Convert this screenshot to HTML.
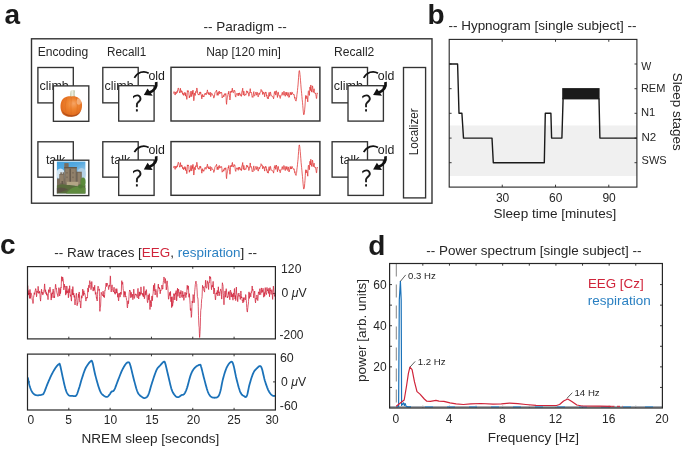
<!DOCTYPE html>
<html><head><meta charset="utf-8"><title>Figure</title>
<style>
html,body{margin:0;padding:0;background:#fff;}
body{width:685px;height:450px;overflow:hidden;}
svg{display:block;font-family:'Liberation Sans', sans-serif;}
</style></head>
<body>
<svg width="685" height="450" viewBox="0 0 685 450">
<rect width="685" height="450" fill="#fff"/>
<text x="4.55" y="24.05" font-size="28" font-weight="bold" fill="#1a1a1a">a</text>
<text x="427.52" y="24.3" font-size="28" font-weight="bold" fill="#1a1a1a">b</text>
<text x="0.07" y="254.2" font-size="28" font-weight="bold" fill="#1a1a1a">c</text>
<text x="368.18" y="254.7" font-size="28" font-weight="bold" fill="#1a1a1a">d</text>
<text x="203.46" y="30.50" font-size="13.3" fill="#262626" font-weight="normal"  textLength="83.24" lengthAdjust="spacingAndGlyphs" >-- Paradigm --</text>
<text x="448.46" y="29.50" font-size="13.3" fill="#262626" font-weight="normal"  textLength="187.92" lengthAdjust="spacingAndGlyphs" >-- Hypnogram [single subject] --</text>
<text x="54.37" y="256.60" font-size="13.3" fill="#262626" font-weight="normal"  textLength="202.68" lengthAdjust="spacingAndGlyphs" >-- Raw traces [<tspan fill="#d0243a">EEG</tspan>, <tspan fill="#2a80c2">respiration</tspan>] --</text>
<text x="426.27" y="255.20" font-size="13.3" fill="#262626" font-weight="normal"  textLength="215.21" lengthAdjust="spacingAndGlyphs" >-- Power spectrum [single subject] --</text>
<rect x="31.5" y="38.8" width="400.5" height="164.4" stroke="#333333" stroke-width="1.4" fill="none" />
<text x="37.69" y="56.00" font-size="12" fill="#262626" font-weight="normal"  textLength="50.51" lengthAdjust="spacingAndGlyphs" >Encoding</text>
<text x="107.12" y="56.00" font-size="12" fill="#262626" font-weight="normal"  textLength="39.08" lengthAdjust="spacingAndGlyphs" >Recall1</text>
<text x="206.20" y="55.80" font-size="12" fill="#262626" font-weight="normal"   >Nap [120 min]</text>
<text x="333.99" y="55.90" font-size="12" fill="#262626" font-weight="normal"  textLength="40.33" lengthAdjust="spacingAndGlyphs" >Recall2</text>
<rect x="37.9" y="67.5" width="35.4" height="35.4" stroke="#333333" stroke-width="1.35" fill="#fff" />
<text x="39.60" y="89.70" font-size="12.5" fill="#262626">climb</text>
<rect x="53.4" y="85.9" width="35.4" height="35.4" stroke="#333333" stroke-width="1.35" fill="#fff" />
<rect x="102.8" y="67.45" width="35.4" height="35.4" stroke="#333333" stroke-width="1.35" fill="#fff" />
<text x="104.50" y="89.70" font-size="12.5" fill="#262626">climb</text>
<rect x="118.7" y="85.7" width="35.4" height="35.4" stroke="#333333" stroke-width="1.35" fill="#fff" />
<text x="131.64" y="111.30" font-size="22" fill="#111"  font-family="'DejaVu Sans', sans-serif" font-weight="200" textLength="11.24" lengthAdjust="spacingAndGlyphs" stroke="#111" stroke-width="0.8">?</text>
<path d="M134.4,77.8 C137.3,72.2 143.8,70.2 148.7,73.2" fill="none" stroke="#111" stroke-width="1.7"/>
<text x="148.48" y="79.75" font-size="12" fill="#1a1a1a" font-weight="normal"  textLength="16.50" lengthAdjust="spacingAndGlyphs" >old</text>
<path d="M156.2,82.0 C157.1,87.7 154.3,90.7 149.1,92.80000000000001" fill="none" stroke="#111" stroke-width="2.7"/>
<path d="M143.8,95.1 L147.6,88.4 L152.7,95.7 Z" fill="#111"/>
<rect x="332.1" y="67.45" width="35.4" height="35.4" stroke="#333333" stroke-width="1.35" fill="#fff" />
<text x="333.80" y="89.70" font-size="12.5" fill="#262626">climb</text>
<rect x="348.0" y="85.7" width="35.4" height="35.4" stroke="#333333" stroke-width="1.35" fill="#fff" />
<text x="360.94" y="111.30" font-size="22" fill="#111"  font-family="'DejaVu Sans', sans-serif" font-weight="200" textLength="11.24" lengthAdjust="spacingAndGlyphs" stroke="#111" stroke-width="0.8">?</text>
<path d="M363.70000000000005,77.8 C366.6,72.2 373.1,70.2 378.0,73.2" fill="none" stroke="#111" stroke-width="1.7"/>
<text x="377.78" y="79.75" font-size="12" fill="#1a1a1a" font-weight="normal"  textLength="16.50" lengthAdjust="spacingAndGlyphs" >old</text>
<path d="M385.5,82.0 C386.40000000000003,87.7 383.6,90.7 378.40000000000003,92.80000000000001" fill="none" stroke="#111" stroke-width="2.7"/>
<path d="M373.1,95.1 L376.90000000000003,88.4 L382.0,95.7 Z" fill="#111"/>
<rect x="171.0" y="67.3" width="148.9" height="53.7" stroke="#333333" stroke-width="1.45" fill="#fff" />
<polyline points="173.20,93.36 173.48,93.34 173.76,92.41 174.03,91.67 174.31,91.99 174.59,92.13 174.87,93.92 175.15,95.06 175.42,92.66 175.70,91.94 175.98,93.44 176.26,93.81 176.54,92.88 176.81,91.53 177.09,92.34 177.37,92.47 177.65,90.00 177.93,89.35 178.20,87.97 178.48,88.13 178.76,88.84 179.04,90.83 179.32,91.11 179.59,92.77 179.87,92.98 180.15,91.03 180.43,88.29 180.71,90.43 180.98,92.49 181.26,92.40 181.54,90.68 181.82,91.30 182.10,91.22 182.38,92.21 182.65,94.28 182.93,92.85 183.21,93.90 183.49,95.37 183.77,93.85 184.04,93.91 184.32,94.48 184.60,93.76 184.88,92.23 185.16,94.68 185.43,96.16 185.71,93.16 185.99,95.94 186.27,96.04 186.55,95.83 186.82,99.37 187.10,96.14 187.38,90.58 187.66,91.11 187.94,91.78 188.21,90.62 188.49,91.61 188.77,92.04 189.05,95.41 189.33,97.98 189.60,95.72 189.88,96.79 190.16,96.80 190.44,95.96 190.72,92.01 190.99,91.13 191.27,92.83 191.55,96.46 191.83,96.57 192.11,91.40 192.38,92.26 192.66,94.28 192.94,90.05 193.22,92.53 193.50,96.83 193.77,100.73 194.05,99.32 194.33,95.21 194.61,93.03 194.89,93.57 195.16,95.56 195.44,92.09 195.72,91.43 196.00,92.72 196.28,91.74 196.55,89.85 196.83,87.96 197.11,89.08 197.39,90.30 197.67,93.69 197.95,94.33 198.22,94.08 198.50,94.85 198.78,94.23 199.06,95.13 199.34,93.97 199.61,93.25 199.89,91.94 200.17,93.65 200.45,92.08 200.73,92.08 201.00,94.60 201.28,94.96 201.56,97.07 201.84,98.88 202.12,95.09 202.39,94.38 202.67,96.22 202.95,96.89 203.23,95.91 203.51,95.83 203.78,97.00 204.06,96.33 204.34,94.20 204.62,94.46 204.90,94.14 205.17,93.02 205.45,93.77 205.73,93.62 206.01,95.03 206.29,94.25 206.56,92.96 206.84,91.94 207.12,91.49 207.40,89.90 207.68,91.55 207.95,93.44 208.23,92.38 208.51,94.26 208.79,93.15 209.07,94.47 209.34,93.81 209.62,94.60 209.90,93.37 210.18,92.08 210.46,95.54 210.73,96.61 211.01,94.47 211.29,93.39 211.57,93.07 211.85,93.15 212.12,95.25 212.40,94.70 212.68,95.04 212.96,95.16 213.24,95.39 213.52,95.91 213.79,98.15 214.07,97.26 214.35,96.91 214.63,94.94 214.91,92.93 215.18,92.36 215.46,91.90 215.74,91.89 216.02,91.33 216.30,90.80 216.57,90.05 216.85,92.17 217.13,95.39 217.41,93.47 217.69,92.61 217.96,94.77 218.24,95.28 218.52,92.00 218.80,91.99 219.08,91.51 219.35,91.09 219.63,93.81 219.91,93.91 220.19,93.11 220.47,92.34 220.74,93.06 221.02,92.48 221.30,92.59 221.58,92.25 221.86,94.02 222.13,97.90 222.41,97.16 222.69,97.29 222.97,96.71 223.25,95.42 223.52,95.51 223.80,96.92 224.08,95.33 224.36,93.86 224.64,93.70 224.91,95.33 225.19,95.31 225.47,94.81 225.75,93.44 226.03,94.98 226.30,102.50 226.58,104.32 226.86,100.66 227.14,98.82 227.42,97.42 227.69,96.14 227.97,94.58 228.25,92.82 228.53,93.79 228.81,91.16 229.08,93.50 229.36,95.20 229.64,97.41 229.92,99.98 230.20,98.65 230.48,93.44 230.75,91.34 231.03,92.64 231.31,90.90 231.59,91.56 231.87,92.01 232.14,88.71 232.42,88.15 232.70,91.50 232.98,92.63 233.26,92.63 233.53,92.62 233.81,91.13 234.09,90.22 234.37,91.24 234.65,90.60 234.92,91.08 235.20,94.83 235.48,96.62 235.76,97.11 236.04,95.50 236.31,94.59 236.59,93.66 236.87,93.60 237.15,94.25 237.43,93.52 237.70,94.35 237.98,95.42 238.26,96.00 238.54,93.09 238.82,94.52 239.09,94.76 239.37,94.15 239.65,92.79 239.93,94.01 240.21,95.58 240.48,94.84 240.76,94.41 241.04,94.81 241.32,96.38 241.60,94.57 241.87,91.62 242.15,91.79 242.43,89.69 242.71,88.22 242.99,92.06 243.26,95.11 243.54,93.35 243.82,91.15 244.10,92.36 244.38,95.61 244.65,95.62 244.93,94.92 245.21,94.45 245.49,94.51 245.77,95.14 246.05,94.49 246.32,92.67 246.60,90.80 246.88,91.41 247.16,91.32 247.44,92.62 247.71,91.50 247.99,92.91 248.27,93.57 248.55,93.25 248.83,96.23 249.10,95.58 249.38,92.69 249.66,92.97 249.94,91.54 250.22,88.65 250.49,91.39 250.77,92.83 251.05,92.91 251.33,92.33 251.61,93.57 251.88,95.27 252.16,97.24 252.44,96.79 252.72,96.65 253.00,97.35 253.27,94.59 253.55,92.41 253.83,91.58 254.11,95.26 254.39,96.14 254.66,95.88 254.94,95.33 255.22,94.31 255.50,93.49 255.78,92.33 256.05,91.98 256.33,93.15 256.61,95.20 256.89,94.59 257.17,93.25 257.44,92.46 257.72,93.63 258.00,96.83 258.28,96.73 258.56,95.68 258.83,94.31 259.11,92.95 259.39,93.81 259.67,94.50 259.95,92.89 260.22,92.24 260.50,92.18 260.78,91.47 261.06,89.42 261.34,89.79 261.62,90.09 261.89,91.43 262.17,90.90 262.45,93.00 262.73,94.55 263.01,92.58 263.28,91.96 263.56,93.28 263.84,93.40 264.12,92.92 264.40,95.25 264.67,96.81 264.95,94.00 265.23,92.33 265.51,91.93 265.79,93.20 266.06,92.41 266.34,93.55 266.62,96.19 266.90,95.25 267.18,97.26 267.45,98.41 267.73,97.31 268.01,97.97 268.29,98.89 268.57,95.87 268.84,93.39 269.12,92.38 269.40,94.30 269.68,96.31 269.96,95.02 270.23,92.18 270.51,92.07 270.79,93.71 271.07,95.34 271.35,95.49 271.62,96.00 271.90,96.24 272.18,95.93 272.46,96.42 272.74,96.81 273.01,96.62 273.29,97.63 273.57,98.82 273.85,96.97 274.13,94.42 274.40,92.47 274.68,93.28 274.96,91.06 275.24,91.64 275.52,94.85 275.79,95.10 276.07,92.82 276.35,90.71 276.63,91.78 276.91,92.84 277.18,95.50 277.46,97.46 277.74,94.78 278.02,92.24 278.30,92.18 278.58,94.41 278.85,95.40 279.13,95.33 279.41,96.20 279.69,95.77 279.97,97.86 280.24,98.44 280.52,97.40 280.80,95.45 281.08,95.69 281.36,95.15 281.63,94.51 281.91,93.87 282.19,92.27 282.47,92.52 282.75,95.09 283.02,94.92 283.30,95.12 283.58,94.61 283.86,91.19 284.14,91.69 284.41,94.03 284.69,95.01 284.97,95.06 285.25,96.27 285.53,94.80 285.80,92.17 286.08,92.51 286.36,94.90 286.64,94.18 286.92,92.24 287.19,95.31 287.47,96.13 287.75,95.94 288.03,93.75 288.31,92.63 288.58,93.44 288.86,97.40 289.14,96.68 289.42,97.09 289.70,95.10 289.97,94.05 290.25,92.15 290.53,93.46 290.81,94.67 291.09,93.06 291.36,94.72 291.64,94.01 291.92,91.97 292.20,92.22 292.48,93.07 292.75,93.97 293.03,93.99 293.31,94.25 293.59,95.03 293.87,94.52 294.15,94.65 294.42,96.94 294.70,98.28 294.98,97.32 295.26,99.61 295.54,100.55 295.81,100.72 296.09,101.11 296.37,99.05 296.65,98.01 296.93,94.72 297.20,93.09 297.48,90.46 297.76,87.43 298.04,84.95 298.32,81.02 298.59,77.31 298.87,73.39 299.15,70.71 299.43,70.65 299.71,72.10 299.98,74.53 300.26,77.24 300.54,80.81 300.82,84.33 301.10,88.02 301.37,90.76 301.65,93.36 301.93,96.54 302.21,99.71 302.49,102.23 302.76,105.41 303.04,108.87 303.32,111.90 303.60,114.58 303.88,114.81 304.15,114.06 304.43,112.78 304.71,109.17 304.99,106.07 305.27,101.21 305.54,96.85 305.82,95.41 306.10,98.73 306.38,96.62 306.66,95.92 306.93,96.28 307.21,97.35 307.49,99.59 307.77,101.89 308.05,95.75 308.32,91.45 308.60,90.77 308.88,91.29 309.16,95.52 309.44,95.27 309.72,89.70 309.99,86.94 310.27,89.45 310.55,90.56 310.83,84.97 311.11,88.65 311.38,89.85 311.66,92.11 311.94,89.51 312.22,88.19 312.50,85.87 312.77,87.32 313.05,92.07 313.33,92.47 313.61,90.58 313.89,89.32 314.16,88.81 314.44,91.38 314.72,93.06 315.00,93.49 315.28,93.39 315.55,92.99 315.83,94.75 316.11,96.34 316.39,98.48 316.67,98.43 316.94,94.82 317.22,92.89 317.50,93.56" fill="none" stroke="#e03a3a" stroke-width="0.8" stroke-linejoin="round" />
<rect x="37.9" y="141.8" width="35.4" height="35.4" stroke="#333333" stroke-width="1.35" fill="#fff" />
<text x="45.88" y="164.00" font-size="12.5" fill="#262626">talk</text>
<rect x="53.4" y="160.2" width="35.4" height="35.4" stroke="#333333" stroke-width="1.35" fill="#fff" />
<rect x="102.8" y="141.75" width="35.4" height="35.4" stroke="#333333" stroke-width="1.35" fill="#fff" />
<text x="110.77" y="164.00" font-size="12.5" fill="#262626">talk</text>
<rect x="118.7" y="160.0" width="35.4" height="35.4" stroke="#333333" stroke-width="1.35" fill="#fff" />
<text x="131.64" y="185.60" font-size="22" fill="#111"  font-family="'DejaVu Sans', sans-serif" font-weight="200" textLength="11.24" lengthAdjust="spacingAndGlyphs" stroke="#111" stroke-width="0.8">?</text>
<path d="M134.4,152.1 C137.3,146.5 143.8,144.5 148.7,147.5" fill="none" stroke="#111" stroke-width="1.7"/>
<text x="148.48" y="154.05" font-size="12" fill="#1a1a1a" font-weight="normal"  textLength="16.50" lengthAdjust="spacingAndGlyphs" >old</text>
<path d="M156.2,156.3 C157.1,162.0 154.3,165.0 149.1,167.1" fill="none" stroke="#111" stroke-width="2.7"/>
<path d="M143.8,169.4 L147.6,162.7 L152.7,170.0 Z" fill="#111"/>
<rect x="332.1" y="141.75" width="35.4" height="35.4" stroke="#333333" stroke-width="1.35" fill="#fff" />
<text x="340.08" y="164.00" font-size="12.5" fill="#262626">talk</text>
<rect x="348.0" y="160.0" width="35.4" height="35.4" stroke="#333333" stroke-width="1.35" fill="#fff" />
<text x="360.94" y="185.60" font-size="22" fill="#111"  font-family="'DejaVu Sans', sans-serif" font-weight="200" textLength="11.24" lengthAdjust="spacingAndGlyphs" stroke="#111" stroke-width="0.8">?</text>
<path d="M363.70000000000005,152.1 C366.6,146.5 373.1,144.5 378.0,147.5" fill="none" stroke="#111" stroke-width="1.7"/>
<text x="377.78" y="154.05" font-size="12" fill="#1a1a1a" font-weight="normal"  textLength="16.50" lengthAdjust="spacingAndGlyphs" >old</text>
<path d="M385.5,156.3 C386.40000000000003,162.0 383.6,165.0 378.40000000000003,167.1" fill="none" stroke="#111" stroke-width="2.7"/>
<path d="M373.1,169.4 L376.90000000000003,162.7 L382.0,170.0 Z" fill="#111"/>
<rect x="171.0" y="141.6" width="148.9" height="53.7" stroke="#333333" stroke-width="1.45" fill="#fff" />
<polyline points="173.20,167.66 173.48,167.64 173.76,166.71 174.03,165.97 174.31,166.29 174.59,166.43 174.87,168.22 175.15,169.36 175.42,166.96 175.70,166.24 175.98,167.74 176.26,168.11 176.54,167.18 176.81,165.83 177.09,166.64 177.37,166.77 177.65,164.30 177.93,163.65 178.20,162.27 178.48,162.43 178.76,163.14 179.04,165.13 179.32,165.41 179.59,167.07 179.87,167.28 180.15,165.33 180.43,162.59 180.71,164.73 180.98,166.79 181.26,166.70 181.54,164.98 181.82,165.60 182.10,165.52 182.38,166.51 182.65,168.58 182.93,167.15 183.21,168.20 183.49,169.67 183.77,168.15 184.04,168.21 184.32,168.78 184.60,168.06 184.88,166.53 185.16,168.98 185.43,170.46 185.71,167.46 185.99,170.24 186.27,170.34 186.55,170.13 186.82,173.67 187.10,170.44 187.38,164.88 187.66,165.41 187.94,166.08 188.21,164.92 188.49,165.91 188.77,166.34 189.05,169.71 189.33,172.28 189.60,170.02 189.88,171.09 190.16,171.10 190.44,170.26 190.72,166.31 190.99,165.43 191.27,167.13 191.55,170.76 191.83,170.87 192.11,165.70 192.38,166.56 192.66,168.58 192.94,164.35 193.22,166.83 193.50,171.13 193.77,175.03 194.05,173.62 194.33,169.51 194.61,167.33 194.89,167.87 195.16,169.86 195.44,166.39 195.72,165.73 196.00,167.02 196.28,166.04 196.55,164.15 196.83,162.26 197.11,163.38 197.39,164.60 197.67,167.99 197.95,168.63 198.22,168.38 198.50,169.15 198.78,168.53 199.06,169.43 199.34,168.27 199.61,167.55 199.89,166.24 200.17,167.95 200.45,166.38 200.73,166.38 201.00,168.90 201.28,169.26 201.56,171.37 201.84,173.18 202.12,169.39 202.39,168.68 202.67,170.52 202.95,171.19 203.23,170.21 203.51,170.13 203.78,171.30 204.06,170.63 204.34,168.50 204.62,168.76 204.90,168.44 205.17,167.32 205.45,168.07 205.73,167.92 206.01,169.33 206.29,168.55 206.56,167.26 206.84,166.24 207.12,165.79 207.40,164.20 207.68,165.85 207.95,167.74 208.23,166.68 208.51,168.56 208.79,167.45 209.07,168.77 209.34,168.11 209.62,168.90 209.90,167.67 210.18,166.38 210.46,169.84 210.73,170.91 211.01,168.77 211.29,167.69 211.57,167.37 211.85,167.45 212.12,169.55 212.40,169.00 212.68,169.34 212.96,169.46 213.24,169.69 213.52,170.21 213.79,172.45 214.07,171.56 214.35,171.21 214.63,169.24 214.91,167.23 215.18,166.66 215.46,166.20 215.74,166.19 216.02,165.63 216.30,165.10 216.57,164.35 216.85,166.47 217.13,169.69 217.41,167.77 217.69,166.91 217.96,169.07 218.24,169.58 218.52,166.30 218.80,166.29 219.08,165.81 219.35,165.39 219.63,168.11 219.91,168.21 220.19,167.41 220.47,166.64 220.74,167.36 221.02,166.78 221.30,166.89 221.58,166.55 221.86,168.32 222.13,172.20 222.41,171.46 222.69,171.59 222.97,171.01 223.25,169.72 223.52,169.81 223.80,171.22 224.08,169.63 224.36,168.16 224.64,168.00 224.91,169.63 225.19,169.61 225.47,169.11 225.75,167.74 226.03,169.28 226.30,176.80 226.58,178.62 226.86,174.96 227.14,173.12 227.42,171.72 227.69,170.44 227.97,168.88 228.25,167.12 228.53,168.09 228.81,165.46 229.08,167.80 229.36,169.50 229.64,171.71 229.92,174.28 230.20,172.95 230.48,167.74 230.75,165.64 231.03,166.94 231.31,165.20 231.59,165.86 231.87,166.31 232.14,163.01 232.42,162.45 232.70,165.80 232.98,166.93 233.26,166.93 233.53,166.92 233.81,165.43 234.09,164.52 234.37,165.54 234.65,164.90 234.92,165.38 235.20,169.13 235.48,170.92 235.76,171.41 236.04,169.80 236.31,168.89 236.59,167.96 236.87,167.90 237.15,168.55 237.43,167.82 237.70,168.65 237.98,169.72 238.26,170.30 238.54,167.39 238.82,168.82 239.09,169.06 239.37,168.45 239.65,167.09 239.93,168.31 240.21,169.88 240.48,169.14 240.76,168.71 241.04,169.11 241.32,170.68 241.60,168.87 241.87,165.92 242.15,166.09 242.43,163.99 242.71,162.52 242.99,166.36 243.26,169.41 243.54,167.65 243.82,165.45 244.10,166.66 244.38,169.91 244.65,169.92 244.93,169.22 245.21,168.75 245.49,168.81 245.77,169.44 246.05,168.79 246.32,166.97 246.60,165.10 246.88,165.71 247.16,165.62 247.44,166.92 247.71,165.80 247.99,167.21 248.27,167.87 248.55,167.55 248.83,170.53 249.10,169.88 249.38,166.99 249.66,167.27 249.94,165.84 250.22,162.95 250.49,165.69 250.77,167.13 251.05,167.21 251.33,166.63 251.61,167.87 251.88,169.57 252.16,171.54 252.44,171.09 252.72,170.95 253.00,171.65 253.27,168.89 253.55,166.71 253.83,165.88 254.11,169.56 254.39,170.44 254.66,170.18 254.94,169.63 255.22,168.61 255.50,167.79 255.78,166.63 256.05,166.28 256.33,167.45 256.61,169.50 256.89,168.89 257.17,167.55 257.44,166.76 257.72,167.93 258.00,171.13 258.28,171.03 258.56,169.98 258.83,168.61 259.11,167.25 259.39,168.11 259.67,168.80 259.95,167.19 260.22,166.54 260.50,166.48 260.78,165.77 261.06,163.72 261.34,164.09 261.62,164.39 261.89,165.73 262.17,165.20 262.45,167.30 262.73,168.85 263.01,166.88 263.28,166.26 263.56,167.58 263.84,167.70 264.12,167.22 264.40,169.55 264.67,171.11 264.95,168.30 265.23,166.63 265.51,166.23 265.79,167.50 266.06,166.71 266.34,167.85 266.62,170.49 266.90,169.55 267.18,171.56 267.45,172.71 267.73,171.61 268.01,172.27 268.29,173.19 268.57,170.17 268.84,167.69 269.12,166.68 269.40,168.60 269.68,170.61 269.96,169.32 270.23,166.48 270.51,166.37 270.79,168.01 271.07,169.64 271.35,169.79 271.62,170.30 271.90,170.54 272.18,170.23 272.46,170.72 272.74,171.11 273.01,170.92 273.29,171.93 273.57,173.12 273.85,171.27 274.13,168.72 274.40,166.77 274.68,167.58 274.96,165.36 275.24,165.94 275.52,169.15 275.79,169.40 276.07,167.12 276.35,165.01 276.63,166.08 276.91,167.14 277.18,169.80 277.46,171.76 277.74,169.08 278.02,166.54 278.30,166.48 278.58,168.71 278.85,169.70 279.13,169.63 279.41,170.50 279.69,170.07 279.97,172.16 280.24,172.74 280.52,171.70 280.80,169.75 281.08,169.99 281.36,169.45 281.63,168.81 281.91,168.17 282.19,166.57 282.47,166.82 282.75,169.39 283.02,169.22 283.30,169.42 283.58,168.91 283.86,165.49 284.14,165.99 284.41,168.33 284.69,169.31 284.97,169.36 285.25,170.57 285.53,169.10 285.80,166.47 286.08,166.81 286.36,169.20 286.64,168.48 286.92,166.54 287.19,169.61 287.47,170.43 287.75,170.24 288.03,168.05 288.31,166.93 288.58,167.74 288.86,171.70 289.14,170.98 289.42,171.39 289.70,169.40 289.97,168.35 290.25,166.45 290.53,167.76 290.81,168.97 291.09,167.36 291.36,169.02 291.64,168.31 291.92,166.27 292.20,166.52 292.48,167.37 292.75,168.27 293.03,168.29 293.31,168.55 293.59,169.33 293.87,168.82 294.15,168.95 294.42,171.24 294.70,172.58 294.98,171.62 295.26,173.91 295.54,174.85 295.81,175.02 296.09,175.41 296.37,173.35 296.65,172.31 296.93,169.02 297.20,167.39 297.48,164.76 297.76,161.73 298.04,159.25 298.32,155.32 298.59,151.61 298.87,147.69 299.15,145.01 299.43,144.95 299.71,146.40 299.98,148.83 300.26,151.54 300.54,155.11 300.82,158.63 301.10,162.32 301.37,165.06 301.65,167.66 301.93,170.84 302.21,174.01 302.49,176.53 302.76,179.71 303.04,183.17 303.32,186.20 303.60,188.88 303.88,189.11 304.15,188.36 304.43,187.08 304.71,183.47 304.99,180.37 305.27,175.51 305.54,171.15 305.82,169.71 306.10,173.03 306.38,170.92 306.66,170.22 306.93,170.58 307.21,171.65 307.49,173.89 307.77,176.19 308.05,170.05 308.32,165.75 308.60,165.07 308.88,165.59 309.16,169.82 309.44,169.57 309.72,164.00 309.99,161.24 310.27,163.75 310.55,164.86 310.83,159.27 311.11,162.95 311.38,164.15 311.66,166.41 311.94,163.81 312.22,162.49 312.50,160.17 312.77,161.62 313.05,166.37 313.33,166.77 313.61,164.88 313.89,163.62 314.16,163.11 314.44,165.68 314.72,167.36 315.00,167.79 315.28,167.69 315.55,167.29 315.83,169.05 316.11,170.64 316.39,172.78 316.67,172.73 316.94,169.12 317.22,167.19 317.50,167.86" fill="none" stroke="#e03a3a" stroke-width="0.8" stroke-linejoin="round" />
<rect x="403.5" y="67.5" width="22.1" height="130.4" stroke="#333333" stroke-width="1.35" fill="#fff" />
<text x="-0.98" y="0" font-size="12" fill="#262626" font-weight="normal"  textLength="47.05" lengthAdjust="spacingAndGlyphs" transform="translate(417.80,154.30) rotate(-90)" >Localizer</text>
<defs>
<radialGradient id="pk" cx="0.5" cy="0.42" r="0.62" fx="0.62" fy="0.35">
<stop offset="0" stop-color="#f6a465"/><stop offset="0.4" stop-color="#ef8531"/><stop offset="0.85" stop-color="#e26c1e"/><stop offset="1" stop-color="#c65a1b"/>
</radialGradient>
<linearGradient id="sky" x1="0" y1="0" x2="0.35" y2="1">
<stop offset="0" stop-color="#3f9fdb"/><stop offset="0.3" stop-color="#55aae0"/><stop offset="0.6" stop-color="#9cc6e5"/><stop offset="1" stop-color="#c9dde9"/>
</linearGradient>
<linearGradient id="stem" x1="0" y1="0" x2="1" y2="0">
<stop offset="0" stop-color="#c8cdb2"/><stop offset="0.5" stop-color="#eceee0"/><stop offset="1" stop-color="#b5bb9c"/>
</linearGradient>
</defs>
<path d="M70.0,97.2 Q69.8,93 70.6,90.9 Q72.6,89.5 74.9,90.6 Q74.4,93.5 75.0,97.2 Z" fill="url(#stem)"/>
<path d="M71.3,96.4 C76,95.4 80.6,98 81.8,103 C83,109 80,115.6 73,116.6 C70,117 66.5,116.8 64,115 C60.5,112.5 59.8,106 61.2,102 C62.8,97.5 67,96.1 71.3,96.4 Z" fill="url(#pk)"/>
<g fill="none" stroke="#d5661f" stroke-width="0.6" opacity="0.6"><path d="M66.5,97.5 Q63.8,106 66.5,115.8"/><path d="M71.3,96.6 Q70.6,106 71.3,116.5"/><path d="M76.2,97.2 Q78.5,106 76.5,115.8"/></g>
<path d="M61.6,109.5 Q64,116.5 72,116.7 Q79.5,116.5 81.3,109.5 Q79.5,114.8 72,115.2 Q64.5,115 61.6,109.5 Z" fill="#9c4418" opacity="0.65"/>
<ellipse cx="78.8" cy="101.5" rx="2.2" ry="3.2" fill="#fbd2b0" opacity="0.55"/>
<rect x="56.9" y="161.6" width="28.5" height="31.9" fill="url(#sky)"/>
<ellipse cx="60.5" cy="174" rx="4.2" ry="5.5" fill="#e6eef4" opacity="0.85"/>
<ellipse cx="81.5" cy="174" rx="4.5" ry="6" fill="#b9d3e6" opacity="0.8"/>
<g fill="#7a6d5d"><rect x="64.3" y="163.1" width="4.3" height="6"/><rect x="64.3" y="167.0" width="12.5" height="17"/><rect x="76.6" y="171.7" width="5.2" height="15"/><rect x="59.3" y="174.0" width="5.2" height="10"/><rect x="60.3" y="172.3" width="1.6" height="2"/><rect x="62.6" y="172.3" width="1.6" height="2"/><rect x="57.0" y="178.5" width="10.5" height="7.5"/></g>
<g fill="#93836c" opacity="0.9"><rect x="65.5" y="168.5" width="4" height="14"/><rect x="71" y="168.5" width="4.5" height="14"/><rect x="77.5" y="173" width="3" height="11"/><rect x="60" y="175" width="3.5" height="8"/></g>
<g fill="#5f5446" opacity="0.85"><rect x="64.3" y="167.0" width="12.5" height="1.2"/><rect x="69.6" y="169" width="1.2" height="14"/><rect x="76.4" y="171.7" width="0.9" height="14"/><rect x="61.5" y="181" width="1.6" height="3.5"/><rect x="66.6" y="172" width="0.8" height="1.6"/><rect x="72.6" y="172" width="0.8" height="1.6"/><rect x="66.6" y="176.5" width="0.8" height="1.6"/><rect x="72.6" y="176.5" width="0.8" height="1.6"/></g>
<rect x="66.7" y="181.8" width="11.6" height="4" fill="#b3a585"/>
<path d="M56.9,185.5 Q62,183.5 67,185 Q73,184.5 79,186.5 L85.4,185 L85.4,193.5 L56.9,193.5 Z" fill="#596b3c"/>
<path d="M56.9,188 Q63,186.5 68,189.5 L56.9,193.5 Z" fill="#5a5142" opacity="0.9"/>
<path d="M66,193.5 Q70,188 76,186.8 Q81,186 85.4,188 L85.4,193.5 Z" fill="#5f8a3e"/>
<ellipse cx="83" cy="182" rx="2.6" ry="4.6" fill="#5a8a3a"/>
<ellipse cx="80.5" cy="186.5" rx="2.5" ry="2" fill="#4f7a34"/>
<rect x="449.2" y="125.5" width="187.7" height="50.5" fill="#f0f0f0"/>
<line x1="502.265" y1="187.1" x2="502.265" y2="184.7" stroke="#262626" stroke-width="0.9" />
<line x1="502.265" y1="39.4" x2="502.265" y2="41.8" stroke="#262626" stroke-width="0.9" />
<line x1="555.53" y1="187.1" x2="555.53" y2="184.7" stroke="#262626" stroke-width="0.9" />
<line x1="555.53" y1="39.4" x2="555.53" y2="41.8" stroke="#262626" stroke-width="0.9" />
<line x1="608.7950000000001" y1="187.1" x2="608.7950000000001" y2="184.7" stroke="#262626" stroke-width="0.9" />
<line x1="608.7950000000001" y1="39.4" x2="608.7950000000001" y2="41.8" stroke="#262626" stroke-width="0.9" />
<line x1="449.2" y1="64.0" x2="451.59999999999997" y2="64.0" stroke="#262626" stroke-width="0.9" />
<line x1="636.9" y1="64.0" x2="634.5" y2="64.0" stroke="#262626" stroke-width="0.9" />
<line x1="449.2" y1="88.7" x2="451.59999999999997" y2="88.7" stroke="#262626" stroke-width="0.9" />
<line x1="636.9" y1="88.7" x2="634.5" y2="88.7" stroke="#262626" stroke-width="0.9" />
<line x1="449.2" y1="113.3" x2="451.59999999999997" y2="113.3" stroke="#262626" stroke-width="0.9" />
<line x1="636.9" y1="113.3" x2="634.5" y2="113.3" stroke="#262626" stroke-width="0.9" />
<line x1="449.2" y1="138.1" x2="451.59999999999997" y2="138.1" stroke="#262626" stroke-width="0.9" />
<line x1="636.9" y1="138.1" x2="634.5" y2="138.1" stroke="#262626" stroke-width="0.9" />
<line x1="449.2" y1="162.7" x2="451.59999999999997" y2="162.7" stroke="#262626" stroke-width="0.9" />
<line x1="636.9" y1="162.7" x2="634.5" y2="162.7" stroke="#262626" stroke-width="0.9" />
<polyline points="449.20,64.00 457.60,64.00 459.00,113.30 461.90,113.30 463.50,138.10 492.00,138.10 493.30,162.70 544.30,162.70 545.30,113.30 550.90,113.30 551.60,138.10 561.90,138.10 563.10,98.50 562.50,98.50" fill="none" stroke="#1a1a1a" stroke-width="1.4" stroke-linejoin="round" />
<rect x="562.2" y="88.1" width="37.4" height="11.3" fill="#1a1a1a"/>
<polyline points="599.00,98.50 599.90,138.10 636.90,138.10" fill="none" stroke="#1a1a1a" stroke-width="1.4" stroke-linejoin="round" />
<rect x="449.2" y="39.4" width="187.7" height="147.7" stroke="#262626" stroke-width="1.1" fill="none" />
<text x="641.30" y="69.60" font-size="11" fill="#262626" font-weight="normal"  textLength="10.01" lengthAdjust="spacingAndGlyphs" >W</text>
<text x="640.92" y="91.60" font-size="11" fill="#262626" font-weight="normal"   >REM</text>
<text x="640.91" y="116.30" font-size="11" fill="#262626" font-weight="normal"  textLength="14.34" lengthAdjust="spacingAndGlyphs" >N1</text>
<text x="641.48" y="140.50" font-size="11" fill="#262626" font-weight="normal"  textLength="14.78" lengthAdjust="spacingAndGlyphs" >N2</text>
<text x="641.60" y="164.20" font-size="11" fill="#262626" font-weight="normal"   >SWS</text>
<text x="495.88" y="201.7" font-size="12" fill="#262626">30</text>
<text x="549.08" y="201.7" font-size="12" fill="#262626">60</text>
<text x="602.41" y="201.7" font-size="12" fill="#262626">90</text>
<text x="493.56" y="217.90" font-size="13.2" fill="#262626" font-weight="normal"  textLength="122.67" lengthAdjust="spacingAndGlyphs" >Sleep time [minutes]</text>
<text x="-0.64" y="0" font-size="13.2" fill="#262626" font-weight="normal"  textLength="77.93" lengthAdjust="spacingAndGlyphs" transform="translate(673.00,73.40) rotate(90)" >Sleep stages</text>
<line x1="68.81666666666666" y1="338.9" x2="68.81666666666666" y2="336.7" stroke="#262626" stroke-width="0.9" />
<line x1="68.81666666666666" y1="266.6" x2="68.81666666666666" y2="268.8" stroke="#262626" stroke-width="0.9" />
<line x1="68.81666666666666" y1="410.0" x2="68.81666666666666" y2="407.8" stroke="#262626" stroke-width="0.9" />
<line x1="68.81666666666666" y1="354.1" x2="68.81666666666666" y2="356.3" stroke="#262626" stroke-width="0.9" />
<line x1="110.13333333333334" y1="338.9" x2="110.13333333333334" y2="336.7" stroke="#262626" stroke-width="0.9" />
<line x1="110.13333333333334" y1="266.6" x2="110.13333333333334" y2="268.8" stroke="#262626" stroke-width="0.9" />
<line x1="110.13333333333334" y1="410.0" x2="110.13333333333334" y2="407.8" stroke="#262626" stroke-width="0.9" />
<line x1="110.13333333333334" y1="354.1" x2="110.13333333333334" y2="356.3" stroke="#262626" stroke-width="0.9" />
<line x1="151.45" y1="338.9" x2="151.45" y2="336.7" stroke="#262626" stroke-width="0.9" />
<line x1="151.45" y1="266.6" x2="151.45" y2="268.8" stroke="#262626" stroke-width="0.9" />
<line x1="151.45" y1="410.0" x2="151.45" y2="407.8" stroke="#262626" stroke-width="0.9" />
<line x1="151.45" y1="354.1" x2="151.45" y2="356.3" stroke="#262626" stroke-width="0.9" />
<line x1="192.76666666666668" y1="338.9" x2="192.76666666666668" y2="336.7" stroke="#262626" stroke-width="0.9" />
<line x1="192.76666666666668" y1="266.6" x2="192.76666666666668" y2="268.8" stroke="#262626" stroke-width="0.9" />
<line x1="192.76666666666668" y1="410.0" x2="192.76666666666668" y2="407.8" stroke="#262626" stroke-width="0.9" />
<line x1="192.76666666666668" y1="354.1" x2="192.76666666666668" y2="356.3" stroke="#262626" stroke-width="0.9" />
<line x1="234.08333333333331" y1="338.9" x2="234.08333333333331" y2="336.7" stroke="#262626" stroke-width="0.9" />
<line x1="234.08333333333331" y1="266.6" x2="234.08333333333331" y2="268.8" stroke="#262626" stroke-width="0.9" />
<line x1="234.08333333333331" y1="410.0" x2="234.08333333333331" y2="407.8" stroke="#262626" stroke-width="0.9" />
<line x1="234.08333333333331" y1="354.1" x2="234.08333333333331" y2="356.3" stroke="#262626" stroke-width="0.9" />
<line x1="275.4" y1="381.9" x2="273.0" y2="381.9" stroke="#262626" stroke-width="0.9" />
<line x1="27.5" y1="381.9" x2="29.9" y2="381.9" stroke="#262626" stroke-width="0.9" />
<line x1="275.4" y1="293.6" x2="273.0" y2="293.6" stroke="#262626" stroke-width="0.9" />
<line x1="27.5" y1="293.6" x2="29.9" y2="293.6" stroke="#262626" stroke-width="0.9" />
<polyline points="27.50,287.10 27.73,285.70 27.95,288.76 28.18,292.95 28.40,295.09 28.63,293.07 28.85,290.53 29.08,291.27 29.30,296.06 29.53,298.36 29.76,294.08 29.98,289.41 30.21,292.04 30.43,298.41 30.66,296.77 30.88,292.86 31.11,294.05 31.33,293.92 31.56,294.62 31.79,295.73 32.01,297.27 32.24,300.17 32.46,300.19 32.69,300.33 32.91,303.49 33.14,303.40 33.36,298.60 33.59,297.31 33.82,295.90 34.04,294.42 34.27,292.66 34.49,294.07 34.72,294.52 34.94,292.63 35.17,290.61 35.39,290.19 35.62,288.61 35.85,288.78 36.07,291.29 36.30,292.55 36.52,296.77 36.75,295.55 36.97,290.88 37.20,292.13 37.43,291.92 37.65,292.52 37.88,290.45 38.10,286.35 38.33,288.32 38.55,291.70 38.78,293.41 39.00,292.06 39.23,293.15 39.46,291.40 39.68,290.96 39.91,292.86 40.13,297.42 40.36,299.59 40.58,301.12 40.81,297.96 41.03,295.44 41.26,292.88 41.49,289.21 41.71,290.38 41.94,293.20 42.16,291.99 42.39,292.58 42.61,294.19 42.84,295.06 43.06,293.51 43.29,293.06 43.52,293.37 43.74,291.68 43.97,289.96 44.19,290.06 44.42,285.86 44.64,283.90 44.87,286.90 45.09,292.29 45.32,291.82 45.55,289.74 45.77,291.00 46.00,293.84 46.22,292.29 46.45,292.61 46.67,295.28 46.90,293.58 47.12,293.93 47.35,294.95 47.58,294.94 47.80,297.35 48.03,299.66 48.25,295.73 48.48,290.97 48.70,289.64 48.93,291.94 49.15,292.59 49.38,291.80 49.61,289.33 49.83,287.57 50.06,287.13 50.28,288.67 50.51,291.03 50.73,292.27 50.96,295.98 51.18,300.07 51.41,296.65 51.64,293.54 51.86,297.83 52.09,296.06 52.31,292.62 52.54,293.83 52.76,292.17 52.99,289.54 53.21,289.02 53.44,290.45 53.67,294.92 53.89,297.77 54.12,296.33 54.34,297.64 54.57,297.86 54.79,292.04 55.02,290.35 55.24,288.07 55.47,284.52 55.70,284.24 55.92,287.25 56.15,288.89 56.37,288.28 56.60,290.13 56.82,292.64 57.05,293.43 57.28,294.22 57.50,293.93 57.73,294.88 57.95,296.61 58.18,294.04 58.40,291.55 58.63,290.33 58.85,287.66 59.08,289.23 59.31,293.38 59.53,295.74 59.76,296.03 59.98,291.00 60.21,288.54 60.43,293.65 60.66,292.06 60.88,287.30 61.11,287.91 61.34,283.22 61.56,276.74 61.79,276.62 62.01,279.04 62.24,281.22 62.46,277.86 62.69,277.02 62.91,278.22 63.14,278.95 63.37,280.60 63.59,285.64 63.82,289.85 64.04,288.73 64.27,284.58 64.49,284.18 64.72,286.99 64.94,287.12 65.17,286.22 65.40,288.05 65.62,295.11 65.85,294.36 66.07,290.62 66.30,293.54 66.52,292.73 66.75,285.98 66.97,287.00 67.20,290.60 67.43,292.79 67.65,291.67 67.88,290.63 68.10,292.85 68.33,297.79 68.55,297.01 68.78,289.56 69.00,288.68 69.23,292.81 69.46,287.68 69.68,285.73 69.91,289.00 70.13,293.17 70.36,296.30 70.58,295.82 70.81,294.83 71.03,297.53 71.26,300.10 71.49,301.12 71.71,295.34 71.94,289.34 72.16,290.66 72.39,294.94 72.61,291.01 72.84,286.57 73.06,289.27 73.29,293.55 73.52,295.08 73.74,293.10 73.97,295.89 74.19,297.35 74.42,295.48 74.64,298.12 74.87,303.97 75.09,304.98 75.32,301.72 75.55,299.40 75.77,298.66 76.00,295.76 76.22,293.67 76.45,293.20 76.67,295.79 76.90,300.73 77.13,305.69 77.35,303.25 77.58,303.72 77.80,303.42 78.03,300.65 78.25,298.51 78.48,293.85 78.70,296.73 78.93,297.52 79.16,291.98 79.38,294.67 79.61,301.37 79.83,301.56 80.06,300.95 80.28,303.53 80.51,306.11 80.73,308.05 80.96,305.46 81.19,299.73 81.41,295.73 81.64,296.26 81.86,298.18 82.09,296.82 82.31,295.13 82.54,291.94 82.76,289.14 82.99,291.50 83.22,295.74 83.44,295.31 83.67,291.76 83.89,290.76 84.12,293.80 84.34,294.25 84.57,293.35 84.79,293.38 85.02,294.50 85.25,295.76 85.47,297.81 85.70,299.66 85.92,301.08 86.15,299.92 86.37,297.52 86.60,297.78 86.82,298.32 87.05,297.15 87.28,297.93 87.50,296.80 87.73,290.36 87.95,287.92 88.18,292.10 88.40,291.67 88.63,288.41 88.85,285.19 89.08,287.79 89.31,286.09 89.53,281.88 89.76,280.63 89.98,281.81 90.21,282.49 90.43,282.56 90.66,284.42 90.88,289.50 91.11,289.61 91.34,288.31 91.56,285.19 91.79,281.54 92.01,285.10 92.24,286.42 92.46,286.79 92.69,287.61 92.91,288.38 93.14,291.10 93.37,289.36 93.59,287.26 93.82,287.72 94.04,290.19 94.27,290.41 94.49,286.26 94.72,285.27 94.95,289.40 95.17,290.65 95.40,294.35 95.62,294.14 95.85,292.37 96.07,293.62 96.30,297.21 96.52,298.40 96.75,297.35 96.98,299.95 97.20,300.99 97.43,294.67 97.65,288.93 97.88,286.80 98.10,286.17 98.33,287.14 98.55,287.21 98.78,288.26 99.01,290.61 99.23,289.11 99.46,296.44 99.68,308.65 99.91,311.36 100.13,308.85 100.36,307.25 100.58,306.12 100.81,301.06 101.04,295.46 101.26,292.31 101.49,293.60 101.71,293.99 101.94,294.00 102.16,294.71 102.39,295.66 102.61,295.92 102.84,295.16 103.07,291.18 103.29,293.05 103.52,296.75 103.74,295.17 103.97,295.92 104.19,297.35 104.42,297.64 104.64,294.67 104.87,290.29 105.10,290.60 105.32,289.73 105.55,286.92 105.77,286.20 106.00,283.74 106.22,283.00 106.45,286.35 106.67,286.63 106.90,284.21 107.13,283.05 107.35,283.88 107.58,284.72 107.80,285.23 108.03,285.73 108.25,286.17 108.48,288.30 108.70,289.57 108.93,288.24 109.16,285.29 109.38,284.92 109.61,286.43 109.83,285.55 110.06,282.14 110.28,275.86 110.51,276.36 110.73,284.48 110.96,289.59 111.19,291.96 111.41,290.79 111.64,288.39 111.86,285.89 112.09,284.85 112.31,288.21 112.54,288.73 112.76,290.13 112.99,290.88 113.22,291.68 113.44,292.06 113.67,289.48 113.89,287.77 114.12,287.21 114.34,289.93 114.57,293.31 114.80,291.99 115.02,293.47 115.25,294.31 115.47,293.92 115.70,291.93 115.92,288.73 116.15,291.22 116.37,293.14 116.60,289.58 116.83,288.71 117.05,289.72 117.28,291.56 117.50,293.22 117.73,297.22 117.95,294.50 118.18,293.48 118.40,299.85 118.63,300.85 118.86,298.44 119.08,296.10 119.31,293.20 119.53,293.03 119.76,295.53 119.98,297.12 120.21,296.77 120.43,294.33 120.66,292.01 120.89,292.57 121.11,294.51 121.34,291.70 121.56,283.94 121.79,280.67 122.01,283.14 122.24,284.30 122.46,283.68 122.69,282.31 122.92,285.22 123.14,288.79 123.37,290.33 123.59,290.73 123.82,296.05 124.04,297.19 124.27,294.73 124.49,291.52 124.72,293.55 124.95,294.96 125.17,291.60 125.40,294.37 125.62,296.74 125.85,295.96 126.07,297.32 126.30,297.75 126.52,299.97 126.75,300.30 126.98,302.07 127.20,306.77 127.43,307.88 127.65,306.28 127.88,301.24 128.10,300.86 128.33,303.73 128.55,302.76 128.78,299.31 129.01,296.61 129.23,292.61 129.46,291.29 129.68,289.99 129.91,291.17 130.13,290.72 130.36,291.08 130.58,295.20 130.81,297.77 131.04,292.98 131.26,292.30 131.49,294.87 131.71,294.99 131.94,297.12 132.16,295.36 132.39,294.11 132.62,296.53 132.84,299.70 133.07,298.61 133.29,296.64 133.52,293.42 133.74,289.11 133.97,291.41 134.19,297.56 134.42,298.41 134.65,297.18 134.87,296.03 135.10,294.35 135.32,294.41 135.55,293.87 135.77,294.82 136.00,293.95 136.22,294.66 136.45,295.88 136.68,295.60 136.90,296.93 137.13,297.39 137.35,297.79 137.58,296.62 137.80,289.91 138.03,288.40 138.25,293.69 138.48,297.64 138.71,298.96 138.93,296.50 139.16,293.61 139.38,291.85 139.61,295.24 139.83,296.09 140.06,292.73 140.28,292.43 140.51,294.51 140.74,292.25 140.96,286.87 141.19,290.37 141.41,293.13 141.64,293.00 141.86,294.19 142.09,294.37 142.31,293.34 142.54,295.35 142.77,294.80 142.99,293.63 143.22,296.48 143.44,296.91 143.67,289.92 143.89,286.39 144.12,290.72 144.34,298.81 144.57,298.41 144.80,296.46 145.02,294.59 145.25,292.17 145.47,291.26 145.70,295.11 145.92,294.68 146.15,289.70 146.37,289.65 146.60,292.12 146.83,294.89 147.05,297.66 147.28,300.87 147.50,302.58 147.73,302.58 147.95,300.29 148.18,294.96 148.40,295.65 148.63,299.81 148.86,299.62 149.08,296.85 149.31,293.65 149.53,297.50 149.76,306.59 149.98,309.51 150.21,307.30 150.43,303.48 150.66,300.46 150.89,303.56 151.11,306.87 151.34,306.41 151.56,301.45 151.79,296.99 152.01,295.95 152.24,300.43 152.47,300.76 152.69,295.60 152.92,294.37 153.14,293.32 153.37,288.96 153.59,285.25 153.82,289.02 154.04,291.00 154.27,286.93 154.50,283.61 154.72,283.37 154.95,292.20 155.17,294.96 155.40,292.60 155.62,290.32 155.85,289.36 156.07,290.34 156.30,291.11 156.53,292.19 156.75,293.97 156.98,296.63 157.20,297.34 157.43,292.72 157.65,292.06 157.88,289.84 158.10,285.44 158.33,284.05 158.56,287.99 158.78,287.20 159.01,287.32 159.23,288.95 159.46,287.75 159.68,289.14 159.91,291.34 160.13,293.81 160.36,293.18 160.59,290.17 160.81,291.00 161.04,289.91 161.26,288.55 161.49,288.22 161.71,287.73 161.94,285.03 162.16,287.26 162.39,289.31 162.62,288.52 162.84,289.01 163.07,284.53 163.29,282.43 163.52,280.59 163.74,278.35 163.97,276.97 164.19,277.95 164.42,278.84 164.65,279.36 164.87,283.28 165.10,283.24 165.32,278.51 165.55,280.30 165.77,281.63 166.00,284.47 166.22,289.91 166.45,289.43 166.68,286.55 166.90,283.36 167.13,280.86 167.35,284.61 167.58,285.44 167.80,287.12 168.03,290.18 168.25,295.13 168.48,299.23 168.71,299.07 168.93,297.50 169.16,294.73 169.38,294.88 169.61,293.98 169.83,292.38 170.06,295.68 170.28,292.01 170.51,291.45 170.74,299.32 170.96,301.75 171.19,296.98 171.41,299.82 171.64,307.59 171.86,303.02 172.09,296.67 172.32,300.33 172.54,306.29 172.77,304.87 172.99,303.12 173.22,302.89 173.44,300.44 173.67,295.87 173.89,293.59 174.12,295.45 174.35,294.47 174.57,296.72 174.80,299.93 175.02,297.05 175.25,293.38 175.47,292.77 175.70,294.31 175.92,293.42 176.15,290.62 176.38,295.07 176.60,300.87 176.83,299.45 177.05,294.62 177.28,290.99 177.50,288.21 177.73,291.69 177.95,296.38 178.18,293.07 178.41,289.04 178.63,289.33 178.86,291.46 179.08,292.56 179.31,292.26 179.53,292.95 179.76,296.95 179.98,298.01 180.21,293.25 180.44,292.35 180.66,293.81 180.89,290.45 181.11,291.03 181.34,294.16 181.56,296.52 181.79,296.43 182.01,296.46 182.24,297.63 182.47,294.58 182.69,291.28 182.92,292.43 183.14,296.12 183.37,294.81 183.59,297.70 183.82,300.35 184.04,299.62 184.27,296.41 184.50,294.56 184.72,294.45 184.95,292.38 185.17,292.15 185.40,295.17 185.62,294.94 185.85,297.64 186.07,295.80 186.30,292.88 186.53,294.47 186.75,294.07 186.98,287.98 187.20,285.27 187.43,285.87 187.65,288.51 187.88,289.45 188.10,287.66 188.33,285.89 188.56,288.59 188.78,294.85 189.01,297.31 189.23,294.96 189.46,293.66 189.68,297.96 189.91,300.93 190.14,304.46 190.36,309.92 190.59,310.49 190.81,308.38 191.04,311.51 191.26,317.38 191.49,316.86 191.71,313.39 191.94,306.63 192.17,300.98 192.39,301.63 192.62,303.02 192.84,298.93 193.07,294.54 193.29,294.96 193.52,296.44 193.74,299.11 193.97,302.52 194.20,302.79 194.42,296.90 194.65,291.65 194.87,289.61 195.10,287.17 195.32,284.41 195.55,283.45 195.77,282.03 196.00,281.14 196.23,284.01 196.45,283.99 196.68,284.22 196.90,287.69 197.13,290.99 197.35,296.42 197.58,297.62 197.80,297.62 198.03,299.80 198.26,306.74 198.48,315.32 198.71,320.94 198.93,325.86 199.16,327.23 199.38,333.52 199.61,337.50 199.83,335.54 200.06,331.73 200.29,326.87 200.51,317.34 200.74,310.49 200.96,309.04 201.19,307.92 201.41,303.32 201.64,299.29 201.86,298.60 202.09,296.68 202.32,290.12 202.54,285.31 202.77,286.66 202.99,287.42 203.22,287.75 203.44,286.81 203.67,287.86 203.89,290.63 204.12,290.71 204.35,291.21 204.57,292.11 204.80,287.64 205.02,286.04 205.25,286.34 205.47,280.95 205.70,280.16 205.92,286.32 206.15,287.90 206.38,287.91 206.60,288.19 206.83,286.95 207.05,283.58 207.28,281.70 207.50,280.80 207.73,283.05 207.95,283.93 208.18,283.67 208.41,287.70 208.63,289.54 208.86,282.62 209.08,281.90 209.31,282.58 209.53,279.74 209.76,276.20 209.99,278.26 210.21,278.55 210.44,276.95 210.66,277.69 210.89,281.31 211.11,285.22 211.34,288.33 211.56,289.69 211.79,285.99 212.02,285.11 212.24,285.33 212.47,287.15 212.69,286.22 212.92,283.08 213.14,281.36 213.37,283.91 213.59,289.50 213.82,293.93 214.05,292.22 214.27,288.06 214.50,289.22 214.72,292.36 214.95,294.33 215.17,297.01 215.40,299.92 215.62,299.44 215.85,295.92 216.08,293.33 216.30,293.83 216.53,292.67 216.75,294.24 216.98,293.95 217.20,290.41 217.43,290.52 217.65,292.84 217.88,295.96 218.11,291.72 218.33,286.79 218.56,290.52 218.78,293.03 219.01,292.10 219.23,292.36 219.46,294.78 219.68,295.66 219.91,293.80 220.14,291.13 220.36,290.76 220.59,289.09 220.81,289.27 221.04,290.95 221.26,291.00 221.49,294.35 221.71,299.10 221.94,294.49 222.17,286.61 222.39,282.78 222.62,284.38 222.84,284.62 223.07,286.62 223.29,293.26 223.52,295.69 223.74,300.26 223.97,304.78 224.20,299.82 224.42,295.76 224.65,294.47 224.87,292.14 225.10,290.92 225.32,293.92 225.55,297.22 225.77,294.37 226.00,290.01 226.23,288.69 226.45,289.84 226.68,292.88 226.90,295.36 227.13,297.06 227.35,297.91 227.58,296.59 227.81,297.31 228.03,297.21 228.26,294.94 228.48,292.10 228.71,294.31 228.93,291.39 229.16,291.97 229.38,296.30 229.61,297.85 229.84,299.76 230.06,295.51 230.29,290.48 230.51,290.06 230.74,291.13 230.96,295.42 231.19,297.12 231.41,294.68 231.64,292.58 231.87,294.81 232.09,296.86 232.32,294.24 232.54,294.80 232.77,299.33 232.99,300.20 233.22,297.52 233.44,294.37 233.67,292.93 233.90,296.82 234.12,294.42 234.35,289.19 234.57,288.49 234.80,292.63 235.02,299.06 235.25,297.90 235.47,295.55 235.70,300.58 235.93,299.33 236.15,290.45 236.38,287.07 236.60,292.81 236.83,293.72 237.05,293.60 237.28,295.44 237.50,300.05 237.73,301.62 237.96,298.79 238.18,295.71 238.41,295.76 238.63,294.92 238.86,293.02 239.08,296.33 239.31,295.97 239.53,295.48 239.76,295.98 239.99,297.54 240.21,299.41 240.44,299.30 240.66,293.46 240.89,290.98 241.11,293.36 241.34,295.57 241.56,297.98 241.79,296.94 242.02,298.39 242.24,300.98 242.47,300.94 242.69,300.46 242.92,303.00 243.14,301.87 243.37,297.64 243.59,300.27 243.82,301.67 244.05,299.51 244.27,297.63 244.50,297.85 244.72,298.02 244.95,298.33 245.17,299.94 245.40,298.42 245.62,294.59 245.85,295.38 246.08,299.36 246.30,300.25 246.53,303.33 246.75,307.57 246.98,310.56 247.20,311.85 247.43,312.00 247.66,309.00 247.88,307.56 248.11,305.02 248.33,304.07 248.56,301.52 248.78,295.13 249.01,291.87 249.23,297.19 249.46,298.38 249.69,295.70 249.91,293.03 250.14,293.39 250.36,295.05 250.59,295.84 250.81,296.84 251.04,294.12 251.26,291.72 251.49,292.45 251.72,291.05 251.94,289.13 252.17,285.98 252.39,288.15 252.62,290.47 252.84,289.21 253.07,290.45 253.29,292.94 253.52,295.18 253.75,297.85 253.97,295.64 254.20,294.65 254.42,293.77 254.65,291.04 254.87,293.61 255.10,299.35 255.32,301.54 255.55,302.87 255.78,299.82 256.00,298.09 256.23,299.21 256.45,299.25 256.68,298.65 256.90,294.98 257.13,296.56 257.35,299.02 257.58,299.87 257.81,300.62 258.03,298.74 258.26,294.15 258.48,291.80 258.71,292.97 258.93,292.66 259.16,294.16 259.38,294.84 259.61,291.51 259.84,288.70 260.06,290.75 260.29,293.54 260.51,293.74 260.74,294.62 260.96,292.43 261.19,289.72 261.41,287.93 261.64,289.88 261.87,292.69 262.09,291.34 262.32,290.25 262.54,290.96 262.77,291.79 262.99,288.27 263.22,289.63 263.44,295.19 263.67,297.21 263.90,295.63 264.12,294.75 264.35,292.49 264.57,296.32 264.80,296.10 265.02,290.44 265.25,287.64 265.47,290.20 265.70,293.11 265.93,293.70 266.15,293.68 266.38,294.60 266.60,292.51 266.83,287.74 267.05,287.45 267.28,289.25 267.51,290.92 267.73,289.59 267.96,290.27 268.18,291.40 268.41,293.46 268.63,290.11 268.86,288.31 269.08,289.44 269.31,293.43 269.54,296.78 269.76,291.34 269.99,287.69 270.21,289.43 270.44,290.77 270.66,289.94 270.89,293.21 271.11,294.48 271.34,292.30 271.57,290.53 271.79,289.68 272.02,290.37 272.24,292.56 272.47,298.16 272.69,299.41 272.92,294.65 273.14,290.13 273.37,286.11 273.60,287.94 273.82,291.43 274.05,292.69 274.27,293.95 274.50,295.87 274.72,295.43 274.95,296.09 275.17,296.88 275.40,291.76" fill="none" stroke="#d0223a" stroke-width="0.75" stroke-linejoin="round" />
<polyline points="27.80,377.50 27.94,378.18 28.12,379.09 28.33,380.18 28.57,381.39 28.83,382.64 29.11,383.89 29.40,385.06 29.70,386.10 30.01,387.05 30.33,387.99 30.67,388.90 31.03,389.78 31.40,390.61 31.79,391.39 32.19,392.08 32.60,392.70 33.02,393.23 33.44,393.69 33.88,394.07 34.32,394.40 34.80,394.67 35.30,394.89 35.83,395.06 36.40,395.20 37.05,395.28 37.78,395.30 38.57,395.26 39.37,395.18 40.16,395.06 40.90,394.91 41.56,394.76 42.10,394.60 42.51,394.48 42.80,394.39 43.01,394.32 43.17,394.21 43.32,394.03 43.48,393.74 43.70,393.31 44.00,392.70 44.38,391.87 44.82,390.84 45.29,389.65 45.78,388.36 46.29,387.02 46.81,385.68 47.31,384.39 47.80,383.20 48.27,382.08 48.75,380.96 49.22,379.86 49.70,378.78 50.17,377.71 50.65,376.68 51.12,375.67 51.60,374.70 52.08,373.76 52.56,372.83 53.04,371.93 53.52,371.06 54.00,370.22 54.48,369.43 54.94,368.69 55.40,368.00 55.86,367.35 56.33,366.73 56.80,366.15 57.26,365.62 57.70,365.15 58.11,364.74 58.48,364.43 58.80,364.20 59.05,364.01 59.24,363.82 59.37,363.68 59.48,363.63 59.59,363.71 59.71,363.97 59.88,364.45 60.10,365.20 60.39,366.29 60.71,367.70 61.07,369.37 61.46,371.20 61.85,373.11 62.24,375.02 62.63,376.84 63.00,378.50 63.35,380.06 63.70,381.63 64.05,383.18 64.40,384.70 64.75,386.16 65.10,387.52 65.45,388.78 65.80,389.90 66.15,390.89 66.50,391.76 66.85,392.54 67.19,393.22 67.55,393.82 67.92,394.34 68.30,394.80 68.70,395.20 69.12,395.52 69.57,395.72 70.02,395.85 70.49,395.91 70.97,395.92 71.45,395.91 71.93,395.90 72.40,395.90 72.88,395.95 73.36,396.04 73.86,396.14 74.35,396.21 74.84,396.22 75.31,396.12 75.77,395.90 76.20,395.50 76.61,394.92 76.99,394.17 77.36,393.30 77.71,392.32 78.06,391.27 78.40,390.18 78.75,389.08 79.10,388.00 79.45,386.92 79.78,385.79 80.11,384.63 80.44,383.44 80.78,382.22 81.13,380.99 81.50,379.75 81.90,378.50 82.32,377.21 82.76,375.85 83.21,374.46 83.68,373.07 84.16,371.70 84.66,370.37 85.17,369.13 85.70,368.00 86.27,366.94 86.90,365.90 87.55,364.91 88.22,363.99 88.87,363.15 89.48,362.43 90.03,361.84 90.50,361.40 90.87,361.07 91.16,360.83 91.39,360.68 91.57,360.66 91.75,360.79 91.93,361.09 92.14,361.59 92.40,362.30 92.70,363.29 93.01,364.57 93.34,366.07 93.68,367.73 94.04,369.48 94.41,371.27 94.80,373.03 95.20,374.70 95.63,376.37 96.10,378.13 96.59,379.94 97.09,381.75 97.60,383.51 98.09,385.17 98.56,386.68 99.00,388.00 99.39,389.12 99.75,390.09 100.07,390.92 100.39,391.65 100.72,392.30 101.07,392.89 101.46,393.45 101.90,394.00 102.41,394.55 102.99,395.06 103.61,395.54 104.25,395.97 104.89,396.33 105.51,396.61 106.09,396.81 106.60,396.90 107.06,396.86 107.47,396.70 107.86,396.44 108.22,396.11 108.56,395.73 108.89,395.33 109.20,394.95 109.50,394.60 109.78,394.27 110.02,393.91 110.25,393.55 110.46,393.18 110.67,392.81 110.89,392.45 111.13,392.11 111.40,391.80 111.70,391.57 112.01,391.44 112.34,391.36 112.68,391.27 113.04,391.13 113.41,390.89 113.80,390.50 114.20,389.90 114.63,389.08 115.08,388.06 115.55,386.89 116.04,385.62 116.53,384.30 117.03,382.95 117.52,381.64 118.00,380.40 118.47,379.19 118.95,377.96 119.42,376.71 119.90,375.47 120.38,374.26 120.85,373.08 121.33,371.95 121.80,370.90 122.28,369.90 122.77,368.92 123.27,367.97 123.76,367.07 124.25,366.24 124.72,365.47 125.17,364.79 125.60,364.20 126.00,363.70 126.39,363.27 126.76,362.92 127.12,362.65 127.46,362.45 127.79,362.32 128.10,362.27 128.40,362.30 128.67,362.35 128.89,362.40 129.09,362.50 129.29,362.68 129.49,363.00 129.71,363.50 129.98,364.22 130.30,365.20 130.68,366.53 131.12,368.20 131.59,370.13 132.08,372.21 132.59,374.37 133.11,376.52 133.61,378.55 134.10,380.40 134.57,382.13 135.03,383.86 135.48,385.56 135.94,387.21 136.40,388.77 136.88,390.23 137.38,391.55 137.90,392.70 138.47,393.68 139.08,394.51 139.71,395.21 140.36,395.79 141.00,396.29 141.62,396.71 142.19,397.07 142.70,397.40 143.15,397.68 143.54,397.89 143.89,398.02 144.22,398.09 144.53,398.10 144.84,398.05 145.16,397.95 145.50,397.80 145.85,397.63 146.20,397.47 146.54,397.26 146.89,396.99 147.24,396.62 147.61,396.12 147.99,395.46 148.40,394.60 148.83,393.50 149.27,392.17 149.73,390.66 150.21,389.03 150.69,387.32 151.19,385.60 151.69,383.90 152.20,382.30 152.73,380.70 153.27,379.03 153.83,377.32 154.40,375.62 154.97,373.99 155.53,372.46 156.07,371.08 156.60,369.90 157.11,368.94 157.60,368.15 158.09,367.52 158.57,366.99 159.04,366.53 159.50,366.10 159.95,365.67 160.40,365.20 160.85,364.68 161.30,364.14 161.75,363.61 162.19,363.11 162.62,362.66 163.01,362.27 163.38,361.98 163.70,361.80 163.96,361.69 164.17,361.60 164.34,361.57 164.48,361.63 164.62,361.80 164.78,362.11 164.96,362.61 165.20,363.30 165.48,364.23 165.79,365.36 166.11,366.68 166.46,368.14 166.82,369.71 167.20,371.35 167.59,373.03 168.00,374.70 168.43,376.48 168.88,378.44 169.35,380.52 169.84,382.62 170.33,384.69 170.83,386.64 171.32,388.40 171.80,389.90 172.28,391.14 172.77,392.20 173.26,393.11 173.76,393.89 174.24,394.55 174.71,395.13 175.17,395.64 175.60,396.10 176.01,396.49 176.39,396.78 176.76,396.98 177.11,397.11 177.46,397.17 177.80,397.18 178.15,397.15 178.50,397.10 178.85,397.00 179.20,396.81 179.55,396.57 179.90,396.29 180.25,395.99 180.60,395.69 180.95,395.42 181.30,395.20 181.66,395.05 182.02,394.96 182.38,394.91 182.75,394.86 183.12,394.77 183.48,394.62 183.84,394.37 184.20,394.00 184.55,393.53 184.88,393.01 185.21,392.42 185.54,391.76 185.88,391.00 186.23,390.13 186.60,389.13 187.00,388.00 187.43,386.64 187.88,385.03 188.35,383.26 188.84,381.39 189.33,379.52 189.83,377.73 190.32,376.10 190.80,374.70 191.27,373.52 191.72,372.48 192.17,371.55 192.62,370.72 193.08,369.97 193.56,369.27 194.06,368.62 194.60,368.00 195.20,367.39 195.87,366.82 196.58,366.30 197.29,365.84 197.99,365.44 198.65,365.13 199.23,364.91 199.70,364.80 200.05,364.76 200.30,364.77 200.46,364.86 200.59,365.04 200.69,365.33 200.81,365.76 200.97,366.34 201.20,367.10 201.49,368.08 201.81,369.27 202.15,370.63 202.51,372.11 202.89,373.69 203.28,375.30 203.68,376.92 204.10,378.50 204.53,380.13 204.99,381.88 205.46,383.70 205.94,385.53 206.44,387.31 206.93,388.99 207.42,390.51 207.90,391.80 208.36,392.88 208.81,393.81 209.24,394.61 209.68,395.28 210.14,395.85 210.62,396.34 211.13,396.75 211.70,397.10 212.34,397.39 213.06,397.60 213.83,397.72 214.61,397.76 215.39,397.72 216.13,397.60 216.81,397.39 217.40,397.10 217.89,396.75 218.30,396.34 218.66,395.85 218.97,395.28 219.27,394.61 219.56,393.81 219.87,392.88 220.20,391.80 220.55,390.51 220.90,388.99 221.24,387.31 221.59,385.53 221.94,383.70 222.31,381.88 222.69,380.13 223.10,378.50 223.53,376.94 223.97,375.37 224.44,373.82 224.91,372.30 225.40,370.84 225.89,369.48 226.39,368.22 226.90,367.10 227.43,366.09 227.99,365.14 228.56,364.28 229.14,363.53 229.71,362.88 230.25,362.37 230.75,362.00 231.20,361.80 231.58,361.74 231.90,361.81 232.18,362.00 232.44,362.34 232.68,362.82 232.93,363.45 233.20,364.24 233.50,365.20 233.83,366.39 234.16,367.83 234.50,369.46 234.86,371.23 235.22,373.08 235.60,374.94 235.99,376.77 236.40,378.50 236.83,380.22 237.29,382.04 237.76,383.88 238.25,385.71 238.74,387.47 239.24,389.11 239.72,390.57 240.20,391.80 240.67,392.80 241.15,393.61 241.63,394.27 242.11,394.79 242.58,395.21 243.03,395.55 243.48,395.84 243.90,396.10 244.30,396.37 244.68,396.64 245.05,396.86 245.41,397.00 245.75,397.02 246.10,396.86 246.45,396.51 246.80,395.90 247.15,394.99 247.48,393.78 247.81,392.34 248.14,390.75 248.48,389.07 248.83,387.37 249.20,385.73 249.60,384.20 250.03,382.72 250.48,381.17 250.95,379.61 251.44,378.07 251.93,376.58 252.43,375.18 252.92,373.91 253.40,372.80 253.88,371.86 254.37,371.07 254.86,370.39 255.36,369.81 255.84,369.30 256.31,368.84 256.77,368.42 257.20,368.00 257.61,367.59 258.01,367.21 258.40,366.86 258.77,366.57 259.13,366.33 259.47,366.17 259.79,366.09 260.10,366.10 260.38,366.17 260.62,366.29 260.85,366.46 261.06,366.72 261.27,367.08 261.49,367.56 261.73,368.20 262.00,369.00 262.30,370.03 262.61,371.28 262.94,372.70 263.28,374.23 263.64,375.82 264.01,377.42 264.40,378.96 264.80,380.40 265.23,381.79 265.68,383.20 266.15,384.62 266.64,386.02 267.13,387.36 267.63,388.62 268.12,389.78 268.60,390.80 269.08,391.69 269.57,392.48 270.06,393.17 270.56,393.78 271.04,394.30 271.51,394.76 271.97,395.16 272.40,395.50 272.83,395.76 273.26,395.91 273.68,395.98 274.09,395.99 274.46,395.97 274.80,395.93 275.08,395.90 275.30,395.90" fill="none" stroke="#1b72b9" stroke-width="1.8" stroke-linejoin="round" />
<rect x="27.5" y="266.6" width="247.89999999999998" height="72.29999999999995" stroke="#262626" stroke-width="1.2" fill="none" />
<rect x="27.5" y="354.1" width="247.89999999999998" height="55.89999999999998" stroke="#262626" stroke-width="1.2" fill="none" />
<text x="281.11" y="272.50" font-size="12" fill="#262626" font-weight="normal"  textLength="20.29" lengthAdjust="spacingAndGlyphs" >120</text>
<text x="281.60" y="297.30" font-size="12" fill="#262626" font-weight="normal"  textLength="25.05" lengthAdjust="spacingAndGlyphs" >0 <tspan font-style="italic">μ</tspan>V</text>
<text x="279.50" y="339.00" font-size="12" fill="#262626" font-weight="normal"   >-200</text>
<text x="279.95" y="362.20" font-size="12" fill="#262626" font-weight="normal"  textLength="13.84" lengthAdjust="spacingAndGlyphs" >60</text>
<text x="281.00" y="385.70" font-size="12" fill="#262626" font-weight="normal"  textLength="25.05" lengthAdjust="spacingAndGlyphs" >0 <tspan font-style="italic">μ</tspan>V</text>
<text x="279.89" y="410.30" font-size="12" fill="#262626" font-weight="normal"  textLength="17.79" lengthAdjust="spacingAndGlyphs" >-60</text>
<text x="27.43" y="423.8" font-size="12" fill="#262626">0</text>
<text x="65.29" y="423.8" font-size="12" fill="#262626">5</text>
<text x="103.83" y="423.8" font-size="12" fill="#262626">10</text>
<text x="145.29" y="423.8" font-size="12" fill="#262626">15</text>
<text x="186.85" y="423.8" font-size="12" fill="#262626">20</text>
<text x="227.31" y="423.8" font-size="12" fill="#262626">25</text>
<text x="265.41" y="423.8" font-size="12" fill="#262626">30</text>
<text x="81.55" y="443.00" font-size="13.2" fill="#262626" font-weight="normal"  textLength="137.76" lengthAdjust="spacingAndGlyphs" >NREM sleep [seconds]</text>
<line x1="422.82" y1="408.0" x2="422.82" y2="405.8" stroke="#262626" stroke-width="0.9" />
<line x1="422.82" y1="263.5" x2="422.82" y2="265.7" stroke="#262626" stroke-width="0.9" />
<line x1="449.44" y1="408.0" x2="449.44" y2="405.8" stroke="#262626" stroke-width="0.9" />
<line x1="449.44" y1="263.5" x2="449.44" y2="265.7" stroke="#262626" stroke-width="0.9" />
<line x1="476.06" y1="408.0" x2="476.06" y2="405.8" stroke="#262626" stroke-width="0.9" />
<line x1="476.06" y1="263.5" x2="476.06" y2="265.7" stroke="#262626" stroke-width="0.9" />
<line x1="502.68" y1="408.0" x2="502.68" y2="405.8" stroke="#262626" stroke-width="0.9" />
<line x1="502.68" y1="263.5" x2="502.68" y2="265.7" stroke="#262626" stroke-width="0.9" />
<line x1="529.3" y1="408.0" x2="529.3" y2="405.8" stroke="#262626" stroke-width="0.9" />
<line x1="529.3" y1="263.5" x2="529.3" y2="265.7" stroke="#262626" stroke-width="0.9" />
<line x1="555.92" y1="408.0" x2="555.92" y2="405.8" stroke="#262626" stroke-width="0.9" />
<line x1="555.92" y1="263.5" x2="555.92" y2="265.7" stroke="#262626" stroke-width="0.9" />
<line x1="582.54" y1="408.0" x2="582.54" y2="405.8" stroke="#262626" stroke-width="0.9" />
<line x1="582.54" y1="263.5" x2="582.54" y2="265.7" stroke="#262626" stroke-width="0.9" />
<line x1="609.16" y1="408.0" x2="609.16" y2="405.8" stroke="#262626" stroke-width="0.9" />
<line x1="609.16" y1="263.5" x2="609.16" y2="265.7" stroke="#262626" stroke-width="0.9" />
<line x1="635.78" y1="408.0" x2="635.78" y2="405.8" stroke="#262626" stroke-width="0.9" />
<line x1="635.78" y1="263.5" x2="635.78" y2="265.7" stroke="#262626" stroke-width="0.9" />
<line x1="389.6" y1="387.43" x2="392.0" y2="387.43" stroke="#262626" stroke-width="0.9" />
<line x1="662.4" y1="387.43" x2="660.0" y2="387.43" stroke="#262626" stroke-width="0.9" />
<line x1="389.6" y1="366.86" x2="392.0" y2="366.86" stroke="#262626" stroke-width="0.9" />
<line x1="662.4" y1="366.86" x2="660.0" y2="366.86" stroke="#262626" stroke-width="0.9" />
<line x1="389.6" y1="346.29" x2="392.0" y2="346.29" stroke="#262626" stroke-width="0.9" />
<line x1="662.4" y1="346.29" x2="660.0" y2="346.29" stroke="#262626" stroke-width="0.9" />
<line x1="389.6" y1="325.72" x2="392.0" y2="325.72" stroke="#262626" stroke-width="0.9" />
<line x1="662.4" y1="325.72" x2="660.0" y2="325.72" stroke="#262626" stroke-width="0.9" />
<line x1="389.6" y1="305.15" x2="392.0" y2="305.15" stroke="#262626" stroke-width="0.9" />
<line x1="662.4" y1="305.15" x2="660.0" y2="305.15" stroke="#262626" stroke-width="0.9" />
<line x1="389.6" y1="284.58" x2="392.0" y2="284.58" stroke="#262626" stroke-width="0.9" />
<line x1="662.4" y1="284.58" x2="660.0" y2="284.58" stroke="#262626" stroke-width="0.9" />
<line x1="396.3" y1="263.5" x2="396.3" y2="408.0" stroke="#777" stroke-width="0.9" stroke-dasharray="13,8"/>
<line x1="389.6" y1="406.8" x2="662.4" y2="406.8" stroke="#a3aab2" stroke-width="1.8" />
<polyline points="396.40,406.80 398.60,406.50 399.30,300.00 400.40,281.40 401.20,300.00 401.60,405.40 402.80,404.00 403.60,402.80 404.40,405.50 405.20,403.60 406.20,406.40 408.00,406.80 411.00,406.80" fill="none" stroke="#1b72b9" stroke-width="1.2" stroke-linejoin="round" />
<line x1="411" y1="406.8" x2="662.4" y2="406.8" stroke="#3d8fd0" stroke-width="1.3" stroke-dasharray="8,14" stroke-dashoffset="-14" opacity="0.9"/>
<polyline points="396.20,406.30 404.20,400.00 406.60,385.50 408.40,373.30 409.90,367.20 412.10,369.70 414.50,381.90 417.00,391.60 420.00,394.10 424.30,399.00 426.80,401.20 430.40,401.40 435.90,400.40 439.00,401.20 443.90,401.40 450.00,402.90 456.10,403.90 463.40,404.50 470.70,403.90 480.90,403.50 493.10,404.10 501.30,403.90 509.50,403.10 517.70,403.70 525.80,404.50 536.00,405.30 546.30,405.50 556.50,405.50 559.60,404.50 563.60,401.00 567.70,399.00 571.80,401.50 576.90,405.00 582.00,406.00 600.00,406.20 611.50,406.30" fill="none" stroke="#d0243a" stroke-width="1.2" stroke-linejoin="round" />
<line x1="611.5" y1="406.3" x2="623" y2="406.3" stroke="#d0243a" stroke-width="1.2" stroke-dasharray="3,2.5" opacity="0.8"/>
<rect x="389.6" y="263.5" width="272.79999999999995" height="144.5" stroke="#262626" stroke-width="1.2" fill="none" />
<line x1="400.4" y1="281.4" x2="405.7" y2="274.9" stroke="#333" stroke-width="0.8" />
<text x="408.11" y="279.10" font-size="9.2" fill="#262626" font-weight="normal"  textLength="27.59" lengthAdjust="spacingAndGlyphs" >0.3 Hz</text>
<line x1="409.9" y1="367.2" x2="415.2" y2="361.4" stroke="#333" stroke-width="0.8" />
<text x="417.72" y="364.50" font-size="9.2" fill="#262626" font-weight="normal"  textLength="27.89" lengthAdjust="spacingAndGlyphs" >1.2 Hz</text>
<line x1="566.9" y1="398.4" x2="572.3" y2="392.7" stroke="#333" stroke-width="0.8" />
<text x="574.52" y="396.10" font-size="9.2" fill="#262626" font-weight="normal"  textLength="25.14" lengthAdjust="spacingAndGlyphs" >14 Hz</text>
<text x="587.97" y="288.30" font-size="13.0" fill="#d0243a" font-weight="normal"  textLength="55.65" lengthAdjust="spacingAndGlyphs" >EEG [Cz]</text>
<text x="587.79" y="304.60" font-size="13.0" fill="#2a80c2" font-weight="normal"  textLength="62.86" lengthAdjust="spacingAndGlyphs" >respiration</text>
<text x="392.52" y="423.3" font-size="12" fill="#262626">0</text>
<text x="445.83" y="423.3" font-size="12" fill="#262626">4</text>
<text x="499.07" y="423.3" font-size="12" fill="#262626">8</text>
<text x="548.81" y="423.3" font-size="12" fill="#262626">12</text>
<text x="602.05" y="423.3" font-size="12" fill="#262626">16</text>
<text x="655.35" y="423.3" font-size="12" fill="#262626">20</text>
<text x="373.23" y="370.96" font-size="12" fill="#262626">20</text>
<text x="373.23" y="329.82" font-size="12" fill="#262626">40</text>
<text x="373.23" y="288.68" font-size="12" fill="#262626">60</text>
<text x="487.66" y="441.90" font-size="13.2" fill="#262626" font-weight="normal"  textLength="91.32" lengthAdjust="spacingAndGlyphs" >Frequency [Hz]</text>
<text x="-0.89" y="0" font-size="13.2" fill="#262626" font-weight="normal"  textLength="102.98" lengthAdjust="spacingAndGlyphs" transform="translate(365.60,381.10) rotate(-90)" >power [arb. units]</text>
</svg>
</body></html>
